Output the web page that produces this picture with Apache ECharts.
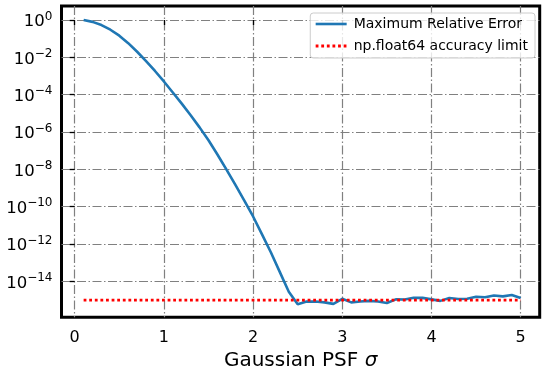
<!DOCTYPE html>
<html><head><meta charset="utf-8">
<script src="https://cdn.jsdelivr.net/npm/echarts@6/dist/echarts.min.js"></script>
<style>html,body{margin:0;padding:0;background:#fff}#c{width:550px;height:373px}</style>
</head><body><div id="c"></div>
<script>
// Gaussian PSF sigma values
const sigma = [0.1,0.2,0.3,0.4,0.5,0.6,0.7,0.8,0.9,1.0,
               1.1,1.2,1.3,1.4,1.5,1.6,1.7,1.8,1.9,2.0,
               2.1,2.2,2.3,2.4,2.5,2.6,2.7,2.8,2.9,3.0,
               3.1,3.2,3.3,3.4,3.5,3.6,3.7,3.8,3.9,4.0,
               4.1,4.2,4.3,4.4,4.5,4.6,4.7,4.8,4.9,5.0];
// log10 of the maximum relative error
const maxRelErrExp = [0.00,-0.10,-0.27,-0.52,-0.84,-1.24,-1.70,-2.20,-2.73,-3.29,
                      -3.88,-4.48,-5.10,-5.75,-6.44,-7.20,-8.00,-8.82,-9.66,-10.52,
                      -11.48,-12.45,-13.50,-14.55,-15.22,-15.08,-15.07,-15.12,-15.20,-14.93,
                      -15.12,-15.07,-15.04,-15.07,-15.15,-14.96,-14.97,-14.87,-14.88,-14.96,
                      -15.04,-14.89,-14.94,-14.93,-14.82,-14.85,-14.75,-14.80,-14.73,-14.89];
// log10 of the np.float64 accuracy limit
const float64LimitExp = [-15, -15];
const float64LimitSigma = [0.1, 5.0];
const xTicks = [0, 1, 2, 3, 4, 5];
const yTickExps = [-14, -12, -10, -8, -6, -4, -2, 0];

const gridDash = [9, 2.5, 1.5, 2.5];
const chart = echarts.init(document.getElementById('c'), null, {renderer: 'canvas'});
chart.setOption({
  animation: false,
  backgroundColor: '#fff',
  grid: {left: 61.5, right: 10.3, top: 6, bottom: 55.7, containLabel: false, outerBoundsMode: 'none',
         show: true, borderColor: '#000', borderWidth: 3, backgroundColor: 'transparent'},
  legend: {
    right: 15, top: 13, orient: 'vertical',
    itemWidth: 31, itemHeight: 14, itemGap: 8,
    padding: [4, 7, 5, 4],
    borderColor: '#cccccc', borderWidth: 1, borderRadius: 3,
    backgroundColor: 'rgba(255,255,255,0.8)',
    itemStyle: {opacity: 0},
    lineStyle: {width: 'inherit'},
    textStyle: {fontFamily: 'DejaVu Sans', fontSize: 14, color: '#000', padding: [0, 0, 0, 2]},
    data: ['Maximum Relative Error', 'np.float64 accuracy limit']
  },
  xAxis: {
    type: 'value', min: -0.148, max: 5.213,
    name: '{n|Gaussian PSF }{i|σ}', nameLocation: 'middle', nameGap: 32,
    nameTextStyle: {rich: {n: {fontFamily: 'DejaVu Sans', fontSize: 20, color: '#000'}, i: {fontFamily: 'DejaVu Sans', fontStyle: 'italic', fontSize: 20, color: '#000'}}},
    axisLine: {show: false},
    axisTick: {show: true, customValues: xTicks, length: 5, lineStyle: {color: '#000', width: 1.3}},
    axisLabel: {customValues: xTicks, margin: 13, fontFamily: 'DejaVu Sans', fontSize: 16, color: '#000'},
    splitLine: {show: true, lineStyle: {color: '#808080', width: 1.2, type: gridDash}}
  },
  yAxis: {
    type: 'value', min: -15.92, max: 0.75,
    axisLine: {show: false},
    axisTick: {show: true, customValues: yTickExps, length: 5, lineStyle: {color: '#000', width: 1.3}},
    axisLabel: {
      customValues: yTickExps, margin: 9, padding: [4, 0, 0, 0],
      formatter: function (v) { return '{b|10}{s|' + (v === 0 ? '0' : '\u2212' + Math.abs(v)) + '}'; },
      rich: {
        b: {fontFamily: 'DejaVu Sans', fontSize: 16.5, lineHeight: 23, color: '#000'},
        s: {fontFamily: 'DejaVu Sans', fontSize: 12, lineHeight: 16, verticalAlign: 'top', color: '#000'}
      }
    },
    splitLine: {show: true, lineStyle: {color: '#808080', width: 1.2, type: gridDash}}
  },
  series: [
    {
      name: 'Maximum Relative Error', type: 'line', showSymbol: false, symbol: 'none',
      data: sigma.map((s, i) => [s, maxRelErrExp[i]]),
      lineStyle: {color: '#1f77b4', width: 2.6}, itemStyle: {color: '#1f77b4'}, z: 3
    },
    {
      name: 'np.float64 accuracy limit', type: 'line', showSymbol: false, symbol: 'none',
      data: float64LimitSigma.map((s, i) => [s, float64LimitExp[i]]),
      lineStyle: {color: '#ff0000', width: 2.8, type: [2.8, 2.8], cap: 'butt'}, itemStyle: {color: '#ff0000'}, z: 4
    }
  ]
});
</script></body></html>
